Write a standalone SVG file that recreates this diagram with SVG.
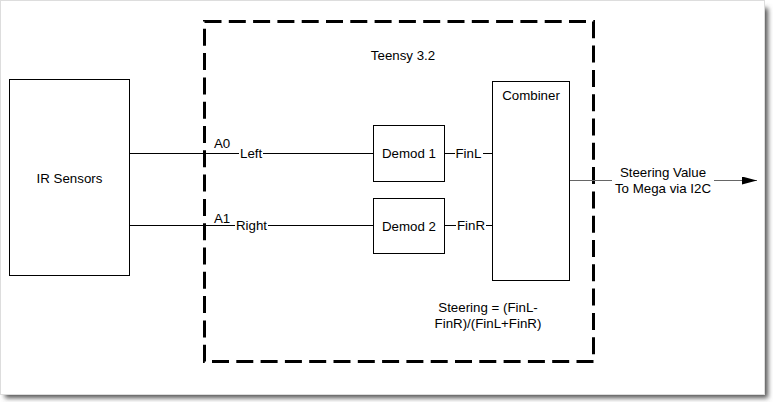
<svg xmlns="http://www.w3.org/2000/svg" width="773" height="402" viewBox="0 0 773 402">
<style>
text{font-family:"Liberation Sans",Arial,sans-serif;font-size:13.3px;fill:#000}
.box{fill:#fff;stroke:#000;stroke-width:1}
.wire{fill:none;stroke:#000;stroke-width:1}
.lbl{fill:#fff}
</style>
<defs>
<filter id="sh" x="-5%" y="-5%" width="110%" height="110%"><feGaussianBlur stdDeviation="2.5"/></filter>
<marker id="arr" markerWidth="15" markerHeight="8" refX="15" refY="4" orient="auto" markerUnits="userSpaceOnUse"><path d="M0,0 L15,4 L0,8 Z" fill="#000"/></marker>
</defs>
<g id="page">
<rect x="0" y="0" width="773" height="402" fill="#fff"/>
<rect x="5" y="8" width="763" height="390" fill="#555" filter="url(#sh)"/>
<rect x="0.5" y="0.5" width="764" height="394" fill="#fff" stroke="#ddd" stroke-width="1"/>
</g>
<g id="teensy">
<rect x="204.5" y="21.5" width="389" height="340" fill="none" stroke="#000" stroke-width="3" stroke-dasharray="17 7.3"/>
<text x="403" y="60" text-anchor="middle">Teensy 3.2</text>
</g>
<g id="connectors">
<line class="wire" x1="129.5" y1="153.5" x2="373.5" y2="153.5"/>
<line class="wire" x1="129.5" y1="225.5" x2="373.5" y2="225.5"/>
<line class="wire" x1="444" y1="153.5" x2="492.5" y2="153.5"/>
<line class="wire" x1="444" y1="225.5" x2="492.5" y2="225.5"/>
<line x1="569.5" y1="180.5" x2="757" y2="180.5" stroke="#666" stroke-width="1" marker-end="url(#arr)"/>
<rect class="lbl" x="239" y="146" width="24" height="14"/>
<text x="240" y="158.3">Left</text>
<rect class="lbl" x="235" y="218" width="33" height="15"/>
<text x="236" y="230">Right</text>
<text x="214" y="147.7">A0</text>
<text x="214" y="222.7">A1</text>
<rect class="lbl" x="455" y="146" width="28" height="14"/>
<text x="455.5" y="158.3">FinL</text>
<rect class="lbl" x="456" y="218" width="30" height="14"/>
<text x="457" y="230">FinR</text>
<rect class="lbl" x="612" y="164" width="102" height="32"/>
<text x="663" y="177.3" text-anchor="middle">Steering Value</text>
<text x="663" y="192.7" text-anchor="middle">To Mega via I2C</text>
</g>
<g id="ir-sensors">
<rect class="box" x="9.5" y="79.5" width="120" height="196"/>
<text x="69.5" y="183" text-anchor="middle">IR Sensors</text>
</g>
<g id="demod1">
<rect class="box" x="373.5" y="125.5" width="71" height="56"/>
<text x="409" y="158.3" text-anchor="middle">Demod 1</text>
</g>
<g id="demod2">
<rect class="box" x="373.5" y="198.5" width="71" height="55"/>
<text x="409" y="230.7" text-anchor="middle">Demod 2</text>
</g>
<g id="combiner">
<rect class="box" x="492.5" y="81.5" width="77" height="199"/>
<text x="531" y="100" text-anchor="middle">Combiner</text>
</g>
<g id="formula">
<text x="488" y="311.7" text-anchor="middle">Steering = (FinL-</text>
<text x="488" y="327.7" text-anchor="middle">FinR)/(FinL+FinR)</text>
</g>
</svg>
